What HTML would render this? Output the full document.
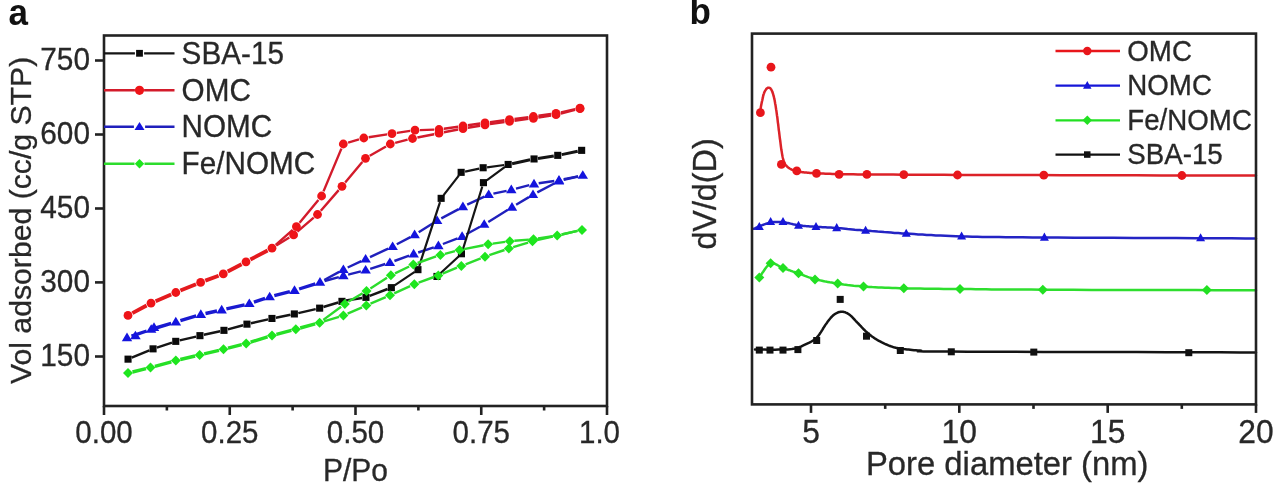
<!DOCTYPE html>
<html><head><meta charset="utf-8"><style>
html,body{margin:0;padding:0;background:#fff;}
svg{display:block;font-family:"Liberation Sans",sans-serif;filter:blur(0.6px);}
</style></head><body>
<svg width="1280" height="485" viewBox="0 0 1280 485">
<rect width="1280" height="485" fill="#fff"/>
<path d="M131.5 336.2L146.7 331.0M155.8 328.0L171.2 323.4M180.4 320.6L196.2 315.9M205.5 313.5L217.0 311.0M226.4 308.9L244.6 304.8M253.9 302.2L265.1 298.4M274.3 295.7L289.9 291.7M299.1 289.0L315.4 283.8" fill="none" stroke="#1a1ad0" stroke-width="3.4" stroke-linecap="butt"/>
<path d="M324.6 281.0L338.8 277.1M348.1 274.6L360.9 271.4M370.2 268.8L385.3 264.0M394.4 261.0L409.1 255.6M418.2 252.5L433.8 247.3M442.9 244.0L457.6 238.3M466.3 234.2L480.0 226.7M488.3 221.9L507.9 209.8M516.1 204.8L528.9 197.1M537.3 192.4L554.7 183.2M563.7 179.9L578.1 176.5" fill="none" stroke="#2020bc" stroke-width="2.4" stroke-linecap="butt"/>
<path d="M578.1 176.4L563.7 179.3M554.3 181.0L538.7 183.3M529.3 185.2L516.0 188.6M506.6 190.8L493.4 193.6M484.4 196.7L467.2 204.7M458.7 209.1L441.3 218.4M433.0 223.2L418.7 232.3M410.4 237.1L396.8 244.3M388.2 248.6L370.0 257.1M361.3 261.2L347.7 267.5M339.2 271.9L324.2 280.0" fill="none" stroke="#2020bc" stroke-width="2.4" stroke-linecap="butt"/>
<polygon points="127.0,332.6 132.2,341.2 121.8,341.2" fill="#1414de"/>
<polygon points="151.2,324.2 156.4,332.8 145.9,332.8" fill="#1414de"/>
<polygon points="175.8,316.8 181.1,325.4 170.6,325.4" fill="#1414de"/>
<polygon points="200.8,309.3 206.1,317.9 195.6,317.9" fill="#1414de"/>
<polygon points="221.7,304.8 226.9,313.4 216.4,313.4" fill="#1414de"/>
<polygon points="249.3,298.5 254.6,307.1 244.1,307.1" fill="#1414de"/>
<polygon points="269.7,291.7 274.9,300.3 264.4,300.3" fill="#1414de"/>
<polygon points="294.5,285.3 299.8,293.9 289.2,293.9" fill="#1414de"/>
<polygon points="320.0,277.1 325.2,285.7 314.8,285.7" fill="#1414de"/>
<polygon points="343.4,270.6 348.6,279.2 338.1,279.2" fill="#1414de"/>
<polygon points="365.6,265.0 370.9,273.6 360.4,273.6" fill="#1414de"/>
<polygon points="389.9,257.4 395.1,266.0 384.6,266.0" fill="#1414de"/>
<polygon points="413.6,248.8 418.9,257.4 408.4,257.4" fill="#1414de"/>
<polygon points="438.4,240.6 443.6,249.2 433.1,249.2" fill="#1414de"/>
<polygon points="462.1,231.3 467.4,239.9 456.9,239.9" fill="#1414de"/>
<polygon points="484.2,219.2 489.4,227.8 478.9,227.8" fill="#1414de"/>
<polygon points="512.0,202.1 517.2,210.7 506.8,210.7" fill="#1414de"/>
<polygon points="533.0,189.4 538.2,198.0 527.8,198.0" fill="#1414de"/>
<polygon points="559.0,175.8 564.2,184.4 553.8,184.4" fill="#1414de"/>
<polygon points="582.8,170.2 588.0,178.8 577.5,178.8" fill="#1414de"/>
<polygon points="559.0,175.1 564.2,183.7 553.8,183.7" fill="#1414de"/>
<polygon points="534.0,178.8 539.2,187.4 528.8,187.4" fill="#1414de"/>
<polygon points="511.3,184.6 516.5,193.2 506.1,193.2" fill="#1414de"/>
<polygon points="488.7,189.4 493.9,198.0 483.4,198.0" fill="#1414de"/>
<polygon points="462.9,201.6 468.1,210.2 457.6,210.2" fill="#1414de"/>
<polygon points="437.1,215.5 442.4,224.1 431.9,224.1" fill="#1414de"/>
<polygon points="414.6,229.6 419.9,238.2 409.4,238.2" fill="#1414de"/>
<polygon points="392.6,241.4 397.9,250.0 387.4,250.0" fill="#1414de"/>
<polygon points="365.6,253.9 370.9,262.5 360.4,262.5" fill="#1414de"/>
<polygon points="343.4,264.4 348.6,273.0 338.1,273.0" fill="#1414de"/>
<polygon points="135.4,330.7 140.7,339.3 130.2,339.3" fill="#1414de"/>
<polygon points="154.0,322.3 159.2,330.9 148.8,330.9" fill="#1414de"/>
<path d="M131.7 357.6L149.4 350.4M156.9 347.6L172.0 342.6M179.7 340.4L196.1 336.6M203.9 334.8L220.1 331.3M227.9 329.4L243.1 325.2M250.9 323.3L268.1 319.4M275.9 317.7L290.5 314.8M298.3 313.1L315.7 309.1M323.4 307.0L338.2 302.5M345.9 300.6L362.1 298.0M369.7 295.9L387.6 289.0" fill="none" stroke="#151515" stroke-width="2.5" stroke-linecap="butt"/>
<path d="M439.9 273.8L458.6 256.5M462.7 250.0L482.3 186.5M486.7 180.3L505.0 166.9" fill="none" stroke="#151515" stroke-width="2.2" stroke-linecap="butt"/>
<path d="M504.2 165.0L487.1 167.3M479.2 168.6L465.1 171.6M458.8 175.6L443.6 195.2M440.0 202.2L419.2 265.9M414.7 271.9L394.6 285.4" fill="none" stroke="#151515" stroke-width="2.2" stroke-linecap="butt"/>
<path d="M512.1 163.7L530.1 159.8M538.0 158.4L553.8 156.0M561.7 154.6L577.7 151.2" fill="none" stroke="#151515" stroke-width="3.0" stroke-linecap="butt"/>
<rect x="124.5" y="355.6" width="7.1" height="7.1" fill="#0a0a0a"/>
<rect x="149.5" y="345.3" width="7.1" height="7.1" fill="#0a0a0a"/>
<rect x="172.2" y="337.8" width="7.1" height="7.1" fill="#0a0a0a"/>
<rect x="196.4" y="332.1" width="7.1" height="7.1" fill="#0a0a0a"/>
<rect x="220.4" y="326.8" width="7.1" height="7.1" fill="#0a0a0a"/>
<rect x="243.4" y="320.6" width="7.1" height="7.1" fill="#0a0a0a"/>
<rect x="268.4" y="314.9" width="7.1" height="7.1" fill="#0a0a0a"/>
<rect x="290.8" y="310.4" width="7.1" height="7.1" fill="#0a0a0a"/>
<rect x="316.1" y="304.6" width="7.1" height="7.1" fill="#0a0a0a"/>
<rect x="338.4" y="297.8" width="7.1" height="7.1" fill="#0a0a0a"/>
<rect x="362.4" y="293.8" width="7.1" height="7.1" fill="#0a0a0a"/>
<rect x="387.8" y="284.1" width="7.1" height="7.1" fill="#0a0a0a"/>
<rect x="433.4" y="272.9" width="7.1" height="7.1" fill="#0a0a0a"/>
<rect x="457.9" y="250.2" width="7.1" height="7.1" fill="#0a0a0a"/>
<rect x="479.9" y="179.1" width="7.1" height="7.1" fill="#0a0a0a"/>
<rect x="504.6" y="160.9" width="7.1" height="7.1" fill="#0a0a0a"/>
<rect x="479.6" y="164.2" width="7.1" height="7.1" fill="#0a0a0a"/>
<rect x="457.6" y="168.8" width="7.1" height="7.1" fill="#0a0a0a"/>
<rect x="437.6" y="194.8" width="7.1" height="7.1" fill="#0a0a0a"/>
<rect x="414.4" y="266.1" width="7.1" height="7.1" fill="#0a0a0a"/>
<rect x="530.5" y="155.4" width="7.1" height="7.1" fill="#0a0a0a"/>
<rect x="554.2" y="151.8" width="7.1" height="7.1" fill="#0a0a0a"/>
<rect x="578.1" y="146.8" width="7.1" height="7.1" fill="#0a0a0a"/>
<path d="M132.5 372.0L146.0 368.6M154.9 366.3L171.4 361.8M180.3 359.5L195.1 356.0M204.1 353.8L219.0 350.3M228.0 348.1L241.7 344.6M250.6 342.1L267.6 336.9M276.4 334.3L291.4 330.4M300.2 328.0L315.2 323.9" fill="none" stroke="#26e026" stroke-width="3.4" stroke-linecap="butt"/>
<path d="M324.0 321.4L339.0 316.8M347.6 313.7L362.1 307.3M370.5 303.7L385.8 297.1M394.2 293.4L410.1 286.1M418.6 282.6L434.0 277.0M442.6 273.7L457.0 267.7M465.6 264.3L480.7 258.4M489.3 255.2L504.5 250.0M513.2 247.1L528.1 242.6M537.0 240.2L552.7 236.5M561.7 234.5L577.5 230.9" fill="none" stroke="#2cdc2c" stroke-width="2.4" stroke-linecap="butt"/>
<path d="M577.5 230.9L561.7 234.5M552.7 236.2L538.0 238.5M528.9 239.6L514.4 240.8M505.2 241.9L492.7 243.6M483.6 245.2L464.0 249.1M455.0 251.1L444.9 253.8M436.1 256.4L417.6 263.0M409.2 266.5L395.0 273.3M387.0 277.8L370.4 288.4M362.6 293.3L348.7 301.5M341.1 306.7L323.3 319.9" fill="none" stroke="#2cdc2c" stroke-width="2.4" stroke-linecap="butt"/>
<polygon points="128.0,368.1 133.0,373.1 128.0,378.1 123.0,373.1" fill="#1ee61e"/>
<polygon points="150.5,362.5 155.5,367.5 150.5,372.5 145.5,367.5" fill="#1ee61e"/>
<polygon points="175.8,355.6 180.8,360.6 175.8,365.6 170.8,360.6" fill="#1ee61e"/>
<polygon points="199.6,349.9 204.6,354.9 199.6,359.9 194.6,354.9" fill="#1ee61e"/>
<polygon points="223.5,344.2 228.5,349.2 223.5,354.2 218.5,349.2" fill="#1ee61e"/>
<polygon points="246.2,338.5 251.2,343.5 246.2,348.5 241.2,343.5" fill="#1ee61e"/>
<polygon points="272.0,330.5 277.0,335.5 272.0,340.5 267.0,335.5" fill="#1ee61e"/>
<polygon points="295.8,324.2 300.8,329.2 295.8,334.2 290.8,329.2" fill="#1ee61e"/>
<polygon points="319.6,317.7 324.6,322.7 319.6,327.7 314.6,322.7" fill="#1ee61e"/>
<polygon points="343.4,310.5 348.4,315.5 343.4,320.5 338.4,315.5" fill="#1ee61e"/>
<polygon points="366.3,300.5 371.3,305.5 366.3,310.5 361.3,305.5" fill="#1ee61e"/>
<polygon points="390.0,290.3 395.0,295.3 390.0,300.3 385.0,295.3" fill="#1ee61e"/>
<polygon points="414.3,279.2 419.3,284.2 414.3,289.2 409.3,284.2" fill="#1ee61e"/>
<polygon points="438.3,270.4 443.3,275.4 438.3,280.4 433.3,275.4" fill="#1ee61e"/>
<polygon points="461.3,261.0 466.3,266.0 461.3,271.0 456.3,266.0" fill="#1ee61e"/>
<polygon points="485.0,251.7 490.0,256.7 485.0,261.7 480.0,256.7" fill="#1ee61e"/>
<polygon points="508.8,243.5 513.8,248.5 508.8,253.5 503.8,248.5" fill="#1ee61e"/>
<polygon points="532.5,236.2 537.5,241.2 532.5,246.2 527.5,241.2" fill="#1ee61e"/>
<polygon points="557.2,230.5 562.2,235.5 557.2,240.5 552.2,235.5" fill="#1ee61e"/>
<polygon points="582.0,224.9 587.0,229.9 582.0,234.9 577.0,229.9" fill="#1ee61e"/>
<polygon points="533.5,234.2 538.5,239.2 533.5,244.2 528.5,239.2" fill="#1ee61e"/>
<polygon points="509.8,236.2 514.8,241.2 509.8,246.2 504.8,241.2" fill="#1ee61e"/>
<polygon points="488.1,239.3 493.1,244.3 488.1,249.3 483.1,244.3" fill="#1ee61e"/>
<polygon points="459.5,245.0 464.5,250.0 459.5,255.0 454.5,250.0" fill="#1ee61e"/>
<polygon points="440.4,249.9 445.4,254.9 440.4,259.9 435.4,254.9" fill="#1ee61e"/>
<polygon points="413.3,259.5 418.3,264.5 413.3,269.5 408.3,264.5" fill="#1ee61e"/>
<polygon points="390.9,270.3 395.9,275.3 390.9,280.3 385.9,275.3" fill="#1ee61e"/>
<polygon points="366.5,285.9 371.5,290.9 366.5,295.9 361.5,290.9" fill="#1ee61e"/>
<polygon points="344.8,298.9 349.8,303.9 344.8,308.9 339.8,303.9" fill="#1ee61e"/>
<path d="M132.4 313.1L146.6 305.5M155.6 301.2L171.2 294.5M180.4 290.6L196.0 284.3M205.3 280.6L218.6 275.7M227.7 271.5L241.6 264.2M250.4 259.5L267.6 250.5" fill="none" stroke="#e41a1e" stroke-width="3.8" stroke-linecap="butt"/>
<path d="M276.3 245.6L289.3 237.5M297.4 231.7L313.7 217.7M320.8 210.7L338.7 190.1M345.2 182.5L362.3 162.1M369.8 155.8L386.0 146.5M395.2 142.8L407.6 139.7M417.4 137.5L434.1 134.2M443.9 132.3L458.1 129.5M467.9 127.7L480.1 125.7M490.0 124.1L504.5 122.1M514.5 120.8L528.4 118.9M538.3 117.5L551.1 115.5M560.9 113.5L575.1 109.9" fill="none" stroke="#d31b2b" stroke-width="2.4" stroke-linecap="butt"/>
<path d="M575.1 109.2L560.9 112.3M551.0 114.0L538.4 115.8M528.4 117.1L514.5 119.0M504.5 120.2L490.0 122.2M480.1 123.5L467.9 125.3M458.1 126.7L443.9 128.8M434.0 129.6L420.0 130.1M410.1 130.9L396.9 132.9M387.1 134.4L368.7 137.2M359.0 139.4L348.1 142.6M341.4 148.6L323.5 191.4M318.4 199.9L299.6 222.7M292.7 229.9L275.7 244.9" fill="none" stroke="#d31b2b" stroke-width="2.4" stroke-linecap="butt"/>
<circle cx="128.0" cy="315.4" r="4.4" fill="#ee1418"/>
<circle cx="151.0" cy="303.2" r="4.4" fill="#ee1418"/>
<circle cx="175.8" cy="292.5" r="4.4" fill="#ee1418"/>
<circle cx="200.6" cy="282.4" r="4.4" fill="#ee1418"/>
<circle cx="223.3" cy="273.9" r="4.4" fill="#ee1418"/>
<circle cx="246.0" cy="261.8" r="4.4" fill="#ee1418"/>
<circle cx="272.0" cy="248.2" r="4.4" fill="#ee1418"/>
<circle cx="293.6" cy="234.9" r="4.4" fill="#ee1418"/>
<circle cx="317.5" cy="214.5" r="4.4" fill="#ee1418"/>
<circle cx="342.0" cy="186.3" r="4.4" fill="#ee1418"/>
<circle cx="365.5" cy="158.3" r="4.4" fill="#ee1418"/>
<circle cx="390.3" cy="144.0" r="4.4" fill="#ee1418"/>
<circle cx="412.5" cy="138.5" r="4.4" fill="#ee1418"/>
<circle cx="439.0" cy="133.2" r="4.4" fill="#ee1418"/>
<circle cx="463.0" cy="128.6" r="4.4" fill="#ee1418"/>
<circle cx="485.0" cy="124.8" r="4.4" fill="#ee1418"/>
<circle cx="509.5" cy="121.4" r="4.4" fill="#ee1418"/>
<circle cx="533.4" cy="118.3" r="4.4" fill="#ee1418"/>
<circle cx="556.0" cy="114.7" r="4.4" fill="#ee1418"/>
<circle cx="580.0" cy="108.7" r="4.4" fill="#ee1418"/>
<circle cx="580.0" cy="108.2" r="4.4" fill="#ee1418"/>
<circle cx="556.0" cy="113.3" r="4.4" fill="#ee1418"/>
<circle cx="533.4" cy="116.5" r="4.4" fill="#ee1418"/>
<circle cx="509.5" cy="119.6" r="4.4" fill="#ee1418"/>
<circle cx="485.0" cy="122.8" r="4.4" fill="#ee1418"/>
<circle cx="463.0" cy="126.0" r="4.4" fill="#ee1418"/>
<circle cx="439.0" cy="129.5" r="4.4" fill="#ee1418"/>
<circle cx="415.0" cy="130.2" r="4.4" fill="#ee1418"/>
<circle cx="392.0" cy="133.6" r="4.4" fill="#ee1418"/>
<circle cx="363.8" cy="138.0" r="4.4" fill="#ee1418"/>
<circle cx="343.3" cy="144.0" r="4.4" fill="#ee1418"/>
<circle cx="321.6" cy="196.0" r="4.4" fill="#ee1418"/>
<circle cx="296.4" cy="226.6" r="4.4" fill="#ee1418"/>
<rect x="104" y="35.5" width="503" height="370.5" fill="none" stroke="#222" stroke-width="2.6"/>
<line x1="95" y1="356.5" x2="104" y2="356.5" stroke="#222" stroke-width="2.6"/>
<text transform="translate(90 365.8) scale(1 1.04)" font-size="29.8" text-anchor="end" font-weight="normal" fill="#282828" stroke="#282828" stroke-width="0.3">150</text>
<line x1="95" y1="282.4" x2="104" y2="282.4" stroke="#222" stroke-width="2.6"/>
<text transform="translate(90 291.7) scale(1 1.04)" font-size="29.8" text-anchor="end" font-weight="normal" fill="#282828" stroke="#282828" stroke-width="0.3">300</text>
<line x1="95" y1="208.5" x2="104" y2="208.5" stroke="#222" stroke-width="2.6"/>
<text transform="translate(90 217.8) scale(1 1.04)" font-size="29.8" text-anchor="end" font-weight="normal" fill="#282828" stroke="#282828" stroke-width="0.3">450</text>
<line x1="95" y1="134.5" x2="104" y2="134.5" stroke="#222" stroke-width="2.6"/>
<text transform="translate(90 143.8) scale(1 1.04)" font-size="29.8" text-anchor="end" font-weight="normal" fill="#282828" stroke="#282828" stroke-width="0.3">600</text>
<line x1="95" y1="60.5" x2="104" y2="60.5" stroke="#222" stroke-width="2.6"/>
<text transform="translate(90 69.8) scale(1 1.04)" font-size="29.8" text-anchor="end" font-weight="normal" fill="#282828" stroke="#282828" stroke-width="0.3">750</text>
<line x1="104.0" y1="406" x2="104.0" y2="415" stroke="#222" stroke-width="2.6"/>
<text transform="translate(104.0 443) scale(1 1.04)" font-size="29.5" text-anchor="middle" font-weight="normal" fill="#282828" stroke="#282828" stroke-width="0.3">0.00</text>
<line x1="229.75" y1="406" x2="229.75" y2="415" stroke="#222" stroke-width="2.6"/>
<text transform="translate(229.75 443) scale(1 1.04)" font-size="29.5" text-anchor="middle" font-weight="normal" fill="#282828" stroke="#282828" stroke-width="0.3">0.25</text>
<line x1="355.5" y1="406" x2="355.5" y2="415" stroke="#222" stroke-width="2.6"/>
<text transform="translate(355.5 443) scale(1 1.04)" font-size="29.5" text-anchor="middle" font-weight="normal" fill="#282828" stroke="#282828" stroke-width="0.3">0.50</text>
<line x1="481.25" y1="406" x2="481.25" y2="415" stroke="#222" stroke-width="2.6"/>
<text transform="translate(481.25 443) scale(1 1.04)" font-size="29.5" text-anchor="middle" font-weight="normal" fill="#282828" stroke="#282828" stroke-width="0.3">0.75</text>
<line x1="607.0" y1="406" x2="607.0" y2="415" stroke="#222" stroke-width="2.6"/>
<text transform="translate(599.5 443) scale(1 1.04)" font-size="29.5" text-anchor="middle" font-weight="normal" fill="#282828" stroke="#282828" stroke-width="0.3">1.0</text>
<line x1="166.875" y1="406" x2="166.875" y2="410.5" stroke="#222" stroke-width="2.6"/>
<line x1="292.625" y1="406" x2="292.625" y2="410.5" stroke="#222" stroke-width="2.6"/>
<line x1="418.375" y1="406" x2="418.375" y2="410.5" stroke="#222" stroke-width="2.6"/>
<line x1="544.125" y1="406" x2="544.125" y2="410.5" stroke="#222" stroke-width="2.6"/>
<text transform="translate(323 481) scale(1 1.04)" font-size="30" text-anchor="start" font-weight="normal" fill="#282828" stroke="#282828" stroke-width="0.3">P/Po</text>
<text transform="translate(31 384) rotate(-90) scale(1 0.96)" font-size="30.2" text-anchor="start" font-weight="normal" fill="#282828" stroke="#282828" stroke-width="0.3">Vol adsorbed (cc/g STP)</text>
<text transform="translate(8.6 24.6) scale(1 1.04)" font-size="35" text-anchor="start" font-weight="bold" fill="#111">a</text>
<path d="M104 53.3H134.9M144.1 53.3H174.5" stroke="#151515" stroke-width="2.2"/>
<rect x="136.1" y="49.9" width="6.8" height="6.8" fill="#0a0a0a"/>
<text transform="translate(181.6 63.599999999999994) scale(1 1.04)" font-size="29.7" text-anchor="start" font-weight="normal" fill="#282828" stroke="#282828" stroke-width="0.3">SBA-15</text>
<path d="M104 90.3H134.9M144.1 90.3H174.5" stroke="#d31b2b" stroke-width="2.6"/>
<circle cx="139.5" cy="90.3" r="4.6" fill="#ee1418"/>
<text transform="translate(181.6 100.6) scale(1 1.04)" font-size="29.7" text-anchor="start" font-weight="normal" fill="#282828" stroke="#282828" stroke-width="0.3">OMC</text>
<path d="M104 126.8H133.9M145.1 126.8H174.5" stroke="#2020bc" stroke-width="2.6"/>
<polygon points="139.5,122.0 144.5,130.0 134.5,130.0" fill="#1414de"/>
<text transform="translate(181.6 137.1) scale(1 1.04)" font-size="29.7" text-anchor="start" font-weight="normal" fill="#282828" stroke="#282828" stroke-width="0.3">NOMC</text>
<path d="M104 163.8H134.5M144.5 163.8H174.5" stroke="#2cdc2c" stroke-width="2.6"/>
<polygon points="139.5,159.1 144.2,163.8 139.5,168.6 134.8,163.8" fill="#1ee61e"/>
<text transform="translate(181.6 174.10000000000002) scale(1 1.04)" font-size="29.7" text-anchor="start" font-weight="normal" fill="#282828" stroke="#282828" stroke-width="0.3">Fe/NOMC</text>
<polyline points="755.0,349.6 756.8,349.6 759.0,349.6 761.8,349.6 764.8,349.6 768.1,349.7 771.6,349.7 775.1,349.7 778.6,349.6 781.9,349.6 785.0,349.5 787.7,349.4 790.0,349.2 791.9,349.0 793.6,348.7 795.1,348.5 796.4,348.2 797.6,347.8 798.6,347.5 799.6,347.1 800.5,346.7 801.4,346.3 802.4,345.8 803.3,345.4 804.4,344.9 805.5,344.4 806.6,343.9 807.7,343.4 808.8,342.9 809.8,342.4 810.9,341.8 811.9,341.2 812.9,340.6 813.9,339.9 814.8,339.2 815.8,338.4 816.7,337.6 817.6,336.7 818.5,335.6 819.3,334.5 820.1,333.3 820.9,332.1 821.7,330.8 822.5,329.6 823.2,328.3 824.0,327.1 824.7,326.0 825.4,324.9 826.1,323.9 826.8,323.0 827.4,322.1 828.0,321.3 828.6,320.5 829.2,319.7 829.8,319.0 830.4,318.3 830.9,317.6 831.5,317.0 832.1,316.4 832.7,315.8 833.3,315.3 833.9,314.8 834.6,314.3 835.2,313.9 835.9,313.5 836.5,313.1 837.2,312.8 837.9,312.5 838.5,312.2 839.2,312.0 839.9,311.9 840.5,311.8 841.2,311.7 841.9,311.7 842.5,311.7 843.2,311.8 843.8,311.9 844.5,312.1 845.2,312.3 845.8,312.6 846.5,312.9 847.1,313.2 847.8,313.6 848.5,314.0 849.2,314.5 849.9,315.0 850.6,315.6 851.3,316.2 852.0,316.9 852.7,317.6 853.4,318.4 854.1,319.2 854.9,320.0 855.6,320.8 856.4,321.6 857.1,322.4 857.9,323.2 858.7,324.0 859.5,324.8 860.3,325.7 861.1,326.5 861.9,327.4 862.8,328.3 863.6,329.2 864.5,330.0 865.3,330.9 866.2,331.7 867.1,332.5 868.0,333.3 868.9,334.0 869.8,334.8 870.8,335.5 871.7,336.2 872.7,336.9 873.7,337.6 874.6,338.2 875.6,338.9 876.6,339.5 877.6,340.1 878.5,340.6 879.5,341.2 880.5,341.7 881.4,342.2 882.4,342.7 883.4,343.2 884.4,343.7 885.4,344.1 886.4,344.5 887.4,344.9 888.3,345.3 889.2,345.7 890.1,346.0 891.0,346.3 891.8,346.6 892.5,346.8 893.2,347.1 893.8,347.3 894.4,347.4 895.0,347.6 895.6,347.7 896.3,347.9 897.0,348.0 897.9,348.2 898.9,348.3 900.0,348.5 901.2,348.7 902.6,348.9 904.0,349.1 905.4,349.2 907.0,349.4 908.6,349.6 910.3,349.8 912.1,350.0 914.0,350.2 915.9,350.3 917.9,350.5 920.0,350.6 921.3,350.7 921.4,350.8 920.6,350.9 919.4,351.0 918.3,351.1 917.7,351.2 918.1,351.3 920.0,351.3 923.7,351.4 929.8,351.5 938.8,351.5 951.0,351.6 967.8,351.7 989.5,351.8 1015.1,351.8 1043.7,351.9 1074.1,352.0 1105.4,352.1 1136.7,352.1 1166.8,352.2 1194.8,352.3 1219.6,352.3 1240.4,352.4 1256.0,352.4" fill="none" stroke="#141414" stroke-width="2.5" stroke-linejoin="round" stroke-linecap="round"/>
<polyline points="759.3,277.4 759.8,276.7 760.5,275.7 761.3,274.5 762.2,273.1 763.2,271.7 764.2,270.2 765.2,268.7 766.3,267.3 767.4,266.0 768.5,264.9 769.6,264.1 770.6,263.5 771.6,263.2 772.6,263.2 773.5,263.3 774.5,263.6 775.5,264.1 776.5,264.6 777.6,265.2 778.6,265.8 779.7,266.5 780.7,267.1 781.9,267.6 783.0,268.1 784.2,268.5 785.4,268.9 786.6,269.4 787.9,269.8 789.2,270.2 790.5,270.7 791.8,271.1 793.1,271.6 794.5,272.0 795.8,272.5 797.2,272.9 798.5,273.4 799.8,273.9 801.1,274.4 802.4,274.8 803.7,275.3 805.0,275.9 806.3,276.4 807.6,276.9 809.0,277.4 810.4,277.8 811.9,278.3 813.4,278.8 815.0,279.2 816.7,279.6 818.4,280.0 820.2,280.4 822.0,280.8 823.9,281.2 825.8,281.6 827.7,281.9 829.7,282.3 831.7,282.6 833.7,283.0 835.7,283.3 837.7,283.6 839.7,283.9 841.7,284.2 843.6,284.5 845.5,284.7 847.5,285.0 849.5,285.2 851.6,285.4 853.7,285.7 856.0,285.9 858.3,286.1 860.8,286.3 863.5,286.5 866.3,286.7 869.2,286.9 872.2,287.1 875.3,287.2 878.4,287.4 881.7,287.5 885.1,287.7 888.6,287.8 892.2,288.0 895.9,288.1 899.8,288.2 903.8,288.3 907.8,288.4 911.9,288.5 916.1,288.6 920.3,288.6 924.7,288.7 929.2,288.7 933.9,288.8 938.7,288.8 943.7,288.9 948.9,288.9 954.3,288.9 960.0,289.0 965.6,289.1 970.8,289.1 975.8,289.2 980.8,289.2 986.0,289.3 991.6,289.4 997.7,289.4 1004.6,289.5 1012.3,289.5 1021.1,289.6 1031.2,289.6 1042.8,289.7 1056.7,289.8 1073.3,289.8 1091.9,289.9 1112.1,289.9 1133.2,290.0 1154.6,290.0 1175.7,290.1 1195.9,290.1 1214.6,290.2 1231.3,290.2 1245.3,290.3 1256.0,290.3" fill="none" stroke="#2ede2e" stroke-width="2.5" stroke-linejoin="round" stroke-linecap="round"/>
<polyline points="754.0,228.8 754.3,228.7 754.6,228.5 755.0,228.3 755.4,228.1 755.8,227.9 756.3,227.6 756.8,227.4 757.4,227.1 758.0,226.8 758.6,226.5 759.3,226.3 760.0,226.0 760.7,225.7 761.5,225.4 762.4,225.1 763.3,224.8 764.2,224.4 765.1,224.1 766.1,223.8 767.1,223.5 768.1,223.2 769.1,222.9 770.0,222.7 771.0,222.5 772.0,222.4 772.9,222.2 773.8,222.1 774.8,222.0 775.8,222.0 776.7,221.9 777.7,221.9 778.7,221.9 779.7,222.0 780.8,222.0 781.9,222.1 783.0,222.2 784.2,222.3 785.4,222.5 786.6,222.8 787.8,223.0 789.1,223.3 790.4,223.6 791.7,223.9 793.1,224.3 794.4,224.6 795.8,224.8 797.1,225.1 798.5,225.3 799.9,225.5 801.3,225.6 802.7,225.8 804.1,225.9 805.5,226.1 806.9,226.2 808.4,226.3 809.9,226.4 811.4,226.5 812.9,226.6 814.4,226.7 816.0,226.8 817.6,226.9 819.2,227.0 820.8,227.1 822.4,227.2 824.0,227.3 825.6,227.3 827.3,227.4 829.1,227.5 830.9,227.6 832.7,227.7 834.7,227.9 836.7,228.0 838.8,228.2 840.9,228.3 843.1,228.5 845.3,228.7 847.6,229.0 849.9,229.2 852.3,229.4 854.8,229.7 857.4,229.9 860.0,230.1 862.8,230.4 865.6,230.6 868.5,230.8 871.5,231.1 874.5,231.3 877.7,231.6 880.8,231.8 884.1,232.1 887.5,232.3 891.0,232.6 894.6,232.9 898.3,233.1 902.1,233.4 906.0,233.6 910.0,233.8 914.1,234.1 918.2,234.4 922.4,234.6 926.7,234.9 931.2,235.1 935.8,235.4 940.5,235.6 945.5,235.8 950.6,236.0 956.0,236.2 961.6,236.4 967.1,236.6 972.3,236.7 977.3,236.8 982.3,236.9 987.5,237.0 993.0,237.1 999.1,237.1 1005.9,237.2 1013.7,237.3 1022.5,237.3 1032.5,237.4 1044.0,237.5 1057.8,237.6 1074.3,237.7 1092.9,237.8 1112.9,237.8 1133.9,237.9 1155.2,238.0 1176.1,238.1 1196.2,238.2 1214.9,238.2 1231.4,238.3 1245.3,238.4 1256.0,238.4" fill="none" stroke="#2424c4" stroke-width="2.5" stroke-linejoin="round" stroke-linecap="round"/>
<polyline points="760.2,110.5 760.4,109.7 760.6,108.7 760.8,107.5 761.0,106.2 761.3,104.7 761.6,103.2 761.9,101.7 762.3,100.2 762.6,98.7 762.9,97.4 763.1,96.2 763.4,95.2 763.6,94.4 763.9,93.6 764.1,93.0 764.3,92.4 764.6,91.9 764.8,91.4 765.0,91.0 765.2,90.6 765.4,90.3 765.7,89.9 765.9,89.6 766.1,89.3 766.3,89.0 766.6,88.7 766.8,88.5 767.0,88.3 767.2,88.1 767.5,88.0 767.7,87.9 767.9,87.8 768.1,87.7 768.4,87.7 768.6,87.7 768.8,87.7 769.0,87.7 769.2,87.8 769.5,87.8 769.7,87.9 769.9,88.0 770.1,88.1 770.3,88.3 770.5,88.5 770.7,88.8 771.0,89.1 771.2,89.4 771.4,89.8 771.6,90.2 771.8,90.7 772.1,91.2 772.3,91.8 772.5,92.3 772.7,93.0 773.0,93.7 773.2,94.4 773.4,95.2 773.6,96.0 773.9,96.9 774.1,97.9 774.3,98.9 774.6,100.0 774.8,101.2 775.0,102.4 775.2,103.7 775.5,105.1 775.7,106.4 775.9,107.9 776.1,109.3 776.4,110.8 776.6,112.3 776.8,113.9 777.0,115.5 777.3,117.2 777.5,119.0 777.7,120.8 777.9,122.6 778.2,124.5 778.4,126.4 778.6,128.2 778.8,130.1 779.1,131.9 779.3,133.7 779.5,135.4 779.7,137.1 779.9,138.8 780.2,140.5 780.4,142.2 780.6,143.9 780.8,145.5 781.0,147.1 781.2,148.7 781.4,150.1 781.7,151.6 781.9,152.9 782.1,154.1 782.3,155.2 782.5,156.3 782.7,157.2 782.9,158.1 783.1,158.9 783.3,159.6 783.5,160.3 783.7,161.0 783.9,161.7 784.2,162.3 784.5,162.9 784.8,163.5 785.1,164.1 785.5,164.7 785.9,165.2 786.3,165.7 786.7,166.1 787.2,166.6 787.6,167.0 788.1,167.4 788.6,167.8 789.1,168.1 789.7,168.5 790.2,168.8 790.8,169.1 791.3,169.4 791.9,169.7 792.5,169.9 793.2,170.2 793.8,170.4 794.5,170.6 795.2,170.8 795.9,171.0 796.6,171.2 797.4,171.3 798.2,171.5 799.0,171.7 799.9,171.8 800.7,172.0 801.5,172.1 802.4,172.2 803.4,172.3 804.3,172.4 805.3,172.5 806.4,172.6 807.5,172.7 808.7,172.8 810.0,172.9 811.3,173.0 812.6,173.1 814.0,173.2 815.3,173.2 816.7,173.3 818.2,173.4 819.8,173.5 821.5,173.5 823.4,173.6 825.4,173.7 827.6,173.7 830.0,173.8 832.3,173.9 834.5,173.9 836.5,174.0 838.5,174.1 840.7,174.1 843.1,174.2 845.9,174.2 849.3,174.3 853.2,174.3 857.9,174.4 863.5,174.4 870.0,174.5 877.3,174.5 885.0,174.6 893.2,174.6 902.0,174.7 911.4,174.7 921.5,174.8 932.3,174.8 944.0,174.8 956.5,174.9 970.0,174.9 984.5,175.0 1000.0,175.0 1017.7,175.0 1038.3,175.1 1061.1,175.2 1085.5,175.2 1110.7,175.3 1136.1,175.3 1161.1,175.4 1185.0,175.4 1207.0,175.5 1226.7,175.5 1243.2,175.6 1256.0,175.6" fill="none" stroke="#dc2228" stroke-width="2.5" stroke-linejoin="round" stroke-linecap="round"/>
<circle cx="760.4" cy="112.7" r="4.4" fill="#e8161b"/>
<circle cx="771.0" cy="67.2" r="4.4" fill="#e8161b"/>
<circle cx="781.4" cy="164.4" r="4.4" fill="#e8161b"/>
<circle cx="796.8" cy="170.9" r="4.4" fill="#e8161b"/>
<circle cx="816.5" cy="173.4" r="4.4" fill="#e8161b"/>
<circle cx="839.1" cy="174.3" r="4.4" fill="#e8161b"/>
<circle cx="866.9" cy="174.4" r="4.4" fill="#e8161b"/>
<circle cx="903.8" cy="174.6" r="4.4" fill="#e8161b"/>
<circle cx="957.5" cy="175.0" r="4.4" fill="#e8161b"/>
<circle cx="1043.8" cy="175.2" r="4.4" fill="#e8161b"/>
<circle cx="1181.9" cy="175.5" r="4.4" fill="#e8161b"/>
<polygon points="759.3,221.9 763.8,230.0 754.8,230.0" fill="#1616d8"/>
<polygon points="770.6,217.0 775.1,225.1 766.1,225.1" fill="#1616d8"/>
<polygon points="783.0,217.0 787.5,225.1 778.5,225.1" fill="#1616d8"/>
<polygon points="798.5,220.7 803.0,228.8 794.0,228.8" fill="#1616d8"/>
<polygon points="816.0,221.9 820.5,230.0 811.5,230.0" fill="#1616d8"/>
<polygon points="836.7,223.1 841.2,231.2 832.2,231.2" fill="#1616d8"/>
<polygon points="865.6,225.7 870.1,233.8 861.1,233.8" fill="#1616d8"/>
<polygon points="906.2,228.7 910.8,236.8 901.8,236.8" fill="#1616d8"/>
<polygon points="961.6,231.5 966.1,239.6 957.1,239.6" fill="#1616d8"/>
<polygon points="1044.4,232.6 1048.9,240.7 1039.9,240.7" fill="#1616d8"/>
<polygon points="1200.6,233.2 1205.1,241.3 1196.1,241.3" fill="#1616d8"/>
<polygon points="759.3,272.4 764.3,277.4 759.3,282.4 754.3,277.4" fill="#22e022"/>
<polygon points="770.6,258.2 775.6,263.2 770.6,268.2 765.6,263.2" fill="#22e022"/>
<polygon points="783.0,263.1 788.0,268.1 783.0,273.1 778.0,268.1" fill="#22e022"/>
<polygon points="798.5,268.3 803.5,273.3 798.5,278.3 793.5,273.3" fill="#22e022"/>
<polygon points="815.0,274.4 820.0,279.4 815.0,284.4 810.0,279.4" fill="#22e022"/>
<polygon points="837.7,278.6 842.7,283.6 837.7,288.6 832.7,283.6" fill="#22e022"/>
<polygon points="863.5,281.6 868.5,286.6 863.5,291.6 858.5,286.6" fill="#22e022"/>
<polygon points="903.8,283.3 908.8,288.3 903.8,293.3 898.8,288.3" fill="#22e022"/>
<polygon points="960.0,284.0 965.0,289.0 960.0,294.0 955.0,289.0" fill="#22e022"/>
<polygon points="1042.8,284.7 1047.8,289.7 1042.8,294.7 1037.8,289.7" fill="#22e022"/>
<polygon points="1206.9,285.1 1211.9,290.1 1206.9,295.1 1201.9,290.1" fill="#22e022"/>
<rect x="755.8" y="346.6" width="7" height="7" fill="#111"/>
<rect x="766.5" y="346.6" width="7" height="7" fill="#111"/>
<rect x="779.5" y="346.6" width="7" height="7" fill="#111"/>
<rect x="794.4" y="346.1" width="7" height="7" fill="#111"/>
<rect x="813.2" y="337.0" width="7" height="7" fill="#111"/>
<rect x="836.7" y="295.9" width="7" height="7" fill="#111"/>
<rect x="863.0" y="332.7" width="7" height="7" fill="#111"/>
<rect x="896.8" y="347.0" width="7" height="7" fill="#111"/>
<rect x="947.8" y="348.3" width="7" height="7" fill="#111"/>
<rect x="1030.3" y="348.6" width="7" height="7" fill="#111"/>
<rect x="1185.3" y="349.2" width="7" height="7" fill="#111"/>
<rect x="752" y="33.6" width="504" height="370.79999999999995" fill="none" stroke="#222" stroke-width="2.6"/>
<line x1="811.0" y1="404.4" x2="811.0" y2="412.9" stroke="#222" stroke-width="2.6"/>
<text transform="translate(811.0 443) scale(1 1.04)" font-size="31.8" text-anchor="middle" font-weight="normal" fill="#282828" stroke="#282828" stroke-width="0.3">5</text>
<line x1="959.3" y1="404.4" x2="959.3" y2="412.9" stroke="#222" stroke-width="2.6"/>
<text transform="translate(959.3 443) scale(1 1.04)" font-size="31.8" text-anchor="middle" font-weight="normal" fill="#282828" stroke="#282828" stroke-width="0.3">10</text>
<line x1="1107.7" y1="404.4" x2="1107.7" y2="412.9" stroke="#222" stroke-width="2.6"/>
<text transform="translate(1107.7 443) scale(1 1.04)" font-size="31.8" text-anchor="middle" font-weight="normal" fill="#282828" stroke="#282828" stroke-width="0.3">15</text>
<line x1="1256.0" y1="404.4" x2="1256.0" y2="412.9" stroke="#222" stroke-width="2.6"/>
<text transform="translate(1256.0 443) scale(1 1.04)" font-size="31.8" text-anchor="middle" font-weight="normal" fill="#282828" stroke="#282828" stroke-width="0.3">20</text>
<line x1="885.2" y1="404.4" x2="885.2" y2="408.9" stroke="#222" stroke-width="2.6"/>
<line x1="1033.5" y1="404.4" x2="1033.5" y2="408.9" stroke="#222" stroke-width="2.6"/>
<line x1="1181.8" y1="404.4" x2="1181.8" y2="408.9" stroke="#222" stroke-width="2.6"/>
<text transform="translate(866 475) scale(1 1.04)" font-size="32.8" text-anchor="start" font-weight="normal" fill="#282828" stroke="#282828" stroke-width="0.3">Pore diameter (nm)</text>
<text transform="translate(715.5 249.6) rotate(-90) scale(1 1.04)" font-size="32.3" text-anchor="start" font-weight="normal" fill="#282828" stroke="#282828" stroke-width="0.3">dV/d(D)</text>
<text transform="translate(689.4 24.4) scale(1 1.04)" font-size="35" text-anchor="start" font-weight="bold" fill="#111">b</text>
<line x1="1055.5" y1="51" x2="1120" y2="51" stroke="#e8161b" stroke-width="2.3"/>
<circle cx="1087.3" cy="51.0" r="4.2" fill="#e8161b"/>
<text transform="translate(1127.3 60.7) scale(1 1.065)" font-size="27.7" text-anchor="start" font-weight="normal" fill="#282828" stroke="#282828" stroke-width="0.3">OMC</text>
<line x1="1055.5" y1="85.6" x2="1120" y2="85.6" stroke="#1616d8" stroke-width="2.3"/>
<polygon points="1087.3,81.0 1091.5,88.7 1083.0,88.7" fill="#1616d8"/>
<text transform="translate(1127.3 95.3) scale(1 1.065)" font-size="27.7" text-anchor="start" font-weight="normal" fill="#282828" stroke="#282828" stroke-width="0.3">NOMC</text>
<line x1="1055.5" y1="120.3" x2="1120" y2="120.3" stroke="#22e022" stroke-width="2.3"/>
<polygon points="1087.3,115.5 1092.0,120.3 1087.3,125.0 1082.5,120.3" fill="#22e022"/>
<text transform="translate(1127.3 130.0) scale(1 1.065)" font-size="27.7" text-anchor="start" font-weight="normal" fill="#282828" stroke="#282828" stroke-width="0.3">Fe/NOMC</text>
<line x1="1055.5" y1="154.6" x2="1120" y2="154.6" stroke="#111" stroke-width="2.3"/>
<rect x="1084.0" y="151.3" width="6.5" height="6.5" fill="#111"/>
<text transform="translate(1127.3 164.29999999999998) scale(1 1.065)" font-size="27.7" text-anchor="start" font-weight="normal" fill="#282828" stroke="#282828" stroke-width="0.3">SBA-15</text>
</svg>
</body></html>
